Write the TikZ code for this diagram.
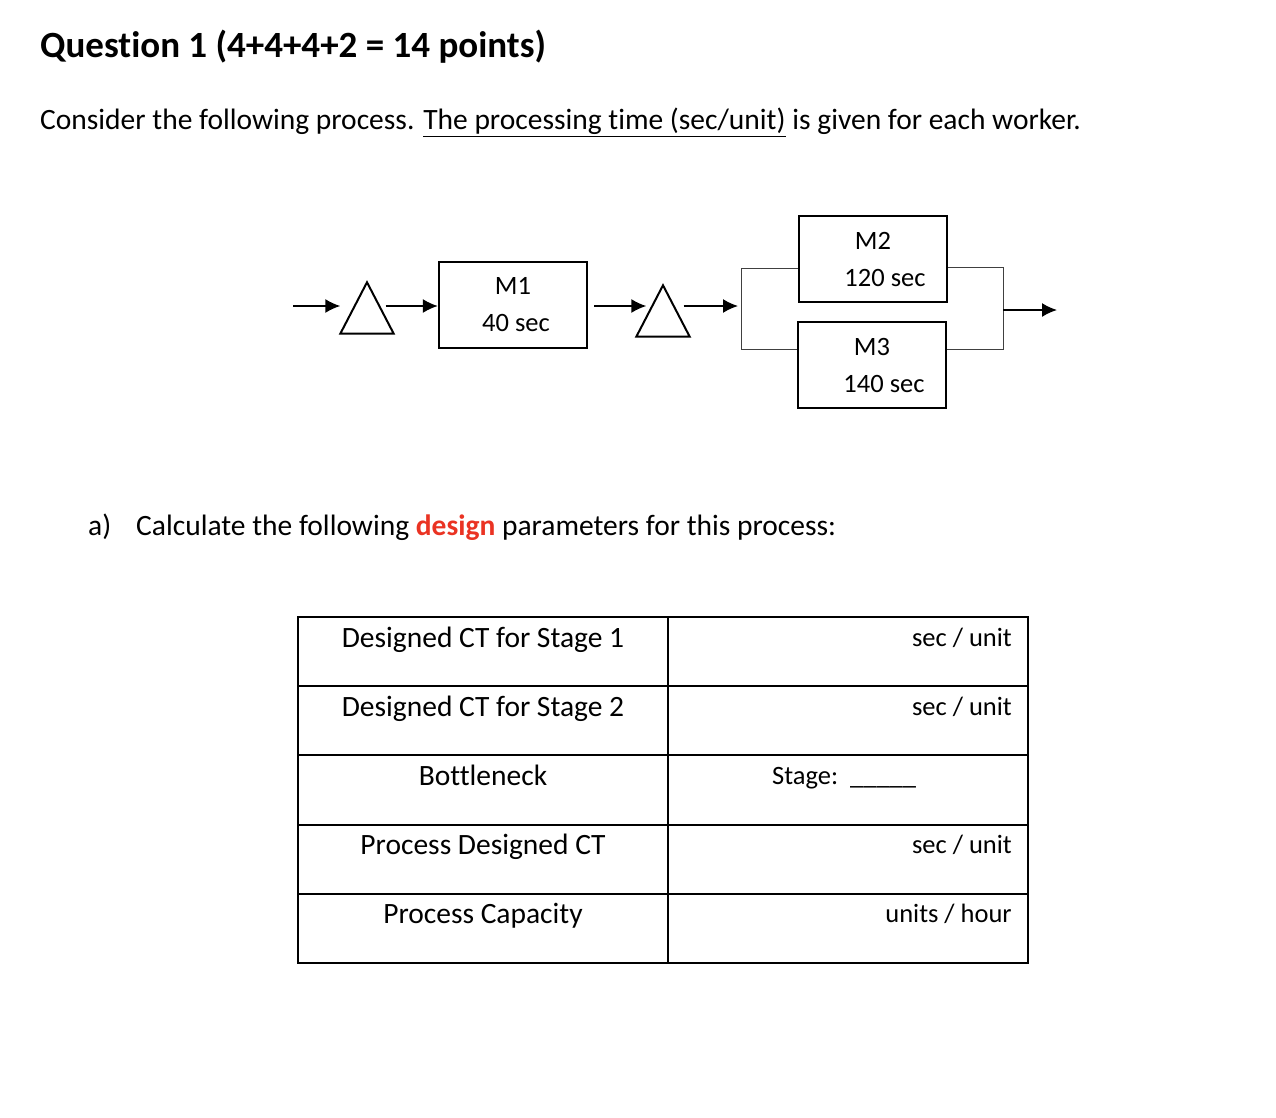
\documentclass[tikz,border=0pt]{standalone}
\usepackage{fontspec}
\setmainfont{Carlito}[Ligatures={TeX,NoCommon}]
\usetikzlibrary{arrows.meta}
\definecolor{designred}{RGB}{234,51,35}
\begin{document}
\fontsize{29.5}{35}\selectfont
\begin{tikzpicture}[x=1pt,y=-1pt,
  txt/.style={inner sep=0pt,font=\fontsize{29.5}{35}\selectfont},
  small/.style={inner sep=0pt,font=\fontsize{26.5}{32}\selectfont},
  mbox/.style={draw,line width=2.4pt,minimum width=148pt,minimum height=86pt,inner sep=0pt,align=center,font=\fontsize{26.5}{37}\selectfont},
  buf/.style={minimum width=53pt,minimum height=51pt,inner sep=0pt},
  arr/.style={line width=1.6pt,-{Latex[length=15pt,width=14pt]}},
  link/.style={line width=0.9pt,black!75},
  tab/.style={line width=2pt}]
\useasboundingbox (0,0) rectangle (1276,1118);
% heading
\node[txt,anchor=base west,font=\fontsize{37}{40}\selectfont\bfseries] (title) at (40,58) {Question 1 (4+4+4+2 = 14 points)};
\node[txt,anchor=base west] (intro) at (40,130) {Consider the following process. \underline{The processing time (sec/unit)} is given for each worker.};
% process
\coordinate (in) at (293,306);
\node[buf] (b1) at (367,308) {};
\draw[line width=2pt,line join=miter] (b1.south west) -- (b1.north) -- (b1.south east) -- cycle;
\node[mbox] (m1) at (513,305) {M1\\\hspace*{6pt}40 sec};
\node[buf] (b2) at (663,311) {};
\draw[line width=2pt,line join=miter] (b2.south west) -- (b2.north) -- (b2.south east) -- cycle;
\node[mbox] (m2) at (873,259) {M2\\\hspace*{24pt}120 sec};
\node[mbox] (m3) at (872,365) {M3\\\hspace*{24pt}140 sec};
\coordinate (split) at (741,306);
\coordinate (merge) at (1003,310);
\coordinate (out) at (1057,310);
\draw[arr] (in) -- (b1.west |- in);
\draw[arr] ([xshift=-8pt]b1.east |- in) -- (m1.west |- in);
\draw[arr] ([xshift=6pt]m1.east |- in) -- ([xshift=10pt]b2.west |- in);
\draw[arr] ([xshift=-6pt]b2.east |- in) -- ([xshift=-3pt]split);
\draw[link] ([yshift=-9pt]m2.west) -| (split) |- ([yshift=16pt]m3.west);
\draw[link] ([yshift=-8pt]m2.east) -| (merge) |- ([yshift=16pt]m3.east);
\draw[arr] (merge) -- (out);
% part a
\node[txt,anchor=base west] (parta) at (88,535) {a)};
\node[txt,anchor=base west] (task) at (136,535) {Calculate the following \textbf{\color{designred}design} parameters for this process:};
% table
\draw[tab] (298,617) rectangle (1028,963);
\draw[tab] (668,617) -- (668,963);
\foreach \i in {1,...,4}
  \draw[tab] (298,617+69.2*\i) -- (1028,617+69.2*\i);
\foreach \name/\lab [count=\i from 0] in {r1/Designed CT for Stage 1,r2/Designed CT for Stage 2,r3/Bottleneck,r4/Process Designed CT,r5/Process Capacity}
  \node[txt,anchor=base] (\name) at (483,647+69.2*\i) {\lab};
\foreach \name/\lab/\row in {u1/{sec / unit}/0,u2/{sec / unit}/1,u4/{sec / unit}/3,u5/{units / hour}/4}
  \node[small,anchor=base east] (\name) at (1012,646+69.2*\row) {\lab};
\node[small,anchor=base west] (stage) at (772,784) {Stage:\ \ \_\_\_\_\_};
\end{tikzpicture}
\end{document}
